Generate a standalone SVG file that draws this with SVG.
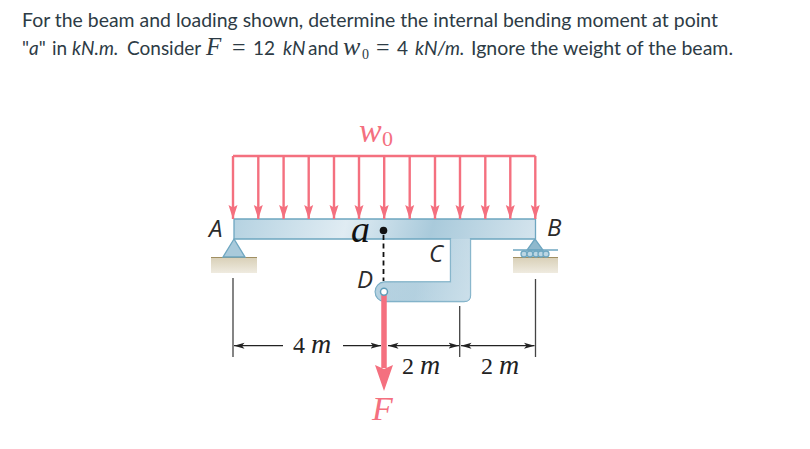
<svg xmlns="http://www.w3.org/2000/svg" width="810" height="449" viewBox="0 0 810 449">
<style>
.t{font-family:Lato,"Liberation Sans",sans-serif;font-size:19px;fill:#2d3b45}
.i{font-style:italic}
.m{font-family:"Liberation Serif",serif;font-style:italic;font-size:25px;fill:#2d3b45}
.mr{font-family:"Liberation Serif",serif;font-size:24px;fill:#2d3b45}
.lab{font-family:"Open Sans","Liberation Sans",sans-serif;font-style:italic;font-size:24px;fill:#2b2b2b}
.dim{font-family:"Liberation Serif",serif;font-size:24px;fill:#222}
.dim tspan{font-style:italic;font-size:28px}
.red{font-family:"Liberation Serif",serif;font-style:italic;fill:#f4707f}
.load{fill:none;stroke:#f4707f;stroke-width:2.4}
.ext{stroke:#444;stroke-width:1.3;fill:none}
.dl{stroke:#222;stroke-width:1.2;fill:none}
.body{stroke:#6ea6c0;stroke-width:1.3}
.gr{fill:url(#gg)}
.gt{stroke:#a08f62;stroke-width:1.2}
</style>
<defs>
<linearGradient id="gg" x1="0" y1="0" x2="0" y2="1"><stop offset="0" stop-color="#d8cfb6"/><stop offset="1" stop-color="#efebe0"/></linearGradient>
<linearGradient id="bg" x1="234" y1="219" x2="536" y2="300" gradientUnits="userSpaceOnUse">
<stop offset="0" stop-color="#b5d2e1"/><stop offset=".35" stop-color="#e0ecf3"/><stop offset=".62" stop-color="#a9cadb"/><stop offset="1" stop-color="#dbe8f0"/>
</linearGradient>
<linearGradient id="ag" x1="374" y1="282" x2="470" y2="302" gradientUnits="userSpaceOnUse">
<stop offset="0" stop-color="#a9cadb"/><stop offset="1" stop-color="#d5e5ee"/>
</linearGradient>
<marker id="dh" markerWidth="11" markerHeight="7" refX="10.5" refY="3.5" orient="auto-start-reverse" markerUnits="userSpaceOnUse"><path d="M0 .5L10.5 3.5L0 6.5L2.500 3.500Z" fill="#222"/></marker>
<marker id="lh" markerWidth="14" markerHeight="10" refX="14" refY="5" orient="auto" markerUnits="userSpaceOnUse"><path d="M0 .5L2.500 5L0 9.500L14 5Z" fill="#f4707f"/></marker>
</defs>
<g id="title">
<text class="t" x="22" y="27" textLength="696" lengthAdjust="spacingAndGlyphs">For the beam and loading shown, determine the internal bending moment at point</text>
<text class="t" x="22" y="55">"<tspan class="i">a</tspan>"</text>
<text class="t" x="52" y="55">in</text>
<text class="t i" x="72" y="55">kN.m.</text>
<text class="t" x="127" y="55">Consider</text>
<text class="m" x="206" y="55">F</text>
<text class="mr" x="232" y="55">=</text>
<text class="t" x="253" y="55">12</text>
<text class="t i" x="283" y="55">kN</text>
<text class="t" x="308" y="55">and</text>
<text class="m" x="343" y="55" style="font-size:26px">w</text>
<text class="mr" x="362" y="59" style="font-size:14px">0</text>
<text class="mr" x="376" y="55">=</text>
<text class="t" x="397" y="55">4</text>
<text class="t i" x="415" y="55">kN/m.</text>
<text class="t" x="471" y="55" textLength="262" lengthAdjust="spacingAndGlyphs">Ignore the weight of the beam.</text>
</g>
<g id="ground-a"><rect class="gr" x="211" y="257" width="46" height="16"/><path class="gt" d="M211 257.500H257"/></g>
<g id="ground-b"><rect class="gr" x="513" y="257" width="45" height="16"/><path class="gt" d="M513 257.500H558"/></g>
<g id="support-a"><path class="body" d="M234 239L223 257H245Z" fill="#a9cadb"/></g>
<g id="support-b">
<path class="body" d="M535 239L527 250H543Z" fill="#8fb9cd"/>
<path class="body" d="M513 250H558" fill="none"/>
<g class="body" fill="#bcd6e3"><circle cx="524" cy="254" r="3"/><circle cx="530" cy="254" r="3"/><circle cx="536" cy="254" r="3"/><circle cx="541" cy="254" r="3"/><circle cx="546" cy="254" r="3"/></g>
</g>
<g id="beam">
<path d="M234 219H535.500V239H470.500V295.500Q470.500 301.500 464 301.500H384A9.800 9.800 0 0 1 384 282H450.500V239H234Z" fill="url(#bg)" class="body"/>
<path d="M384 282H450.500V239H470.500V295.500Q470.500 301.500 464 301.500H384A9.800 9.800 0 0 1 384 282Z" fill="url(#ag)" stroke="none" opacity=".55"/>
</g>
<g id="connectors">
<path class="load" d="M233 156H535.500"/>
<path class="load" marker-end="url(#lh)" d="M233 156V219"/>
<path class="load" marker-end="url(#lh)" d="M258.300 156V219"/>
<path class="load" marker-end="url(#lh)" d="M283.600 156V219"/>
<path class="load" marker-end="url(#lh)" d="M308.700 156V219"/>
<path class="load" marker-end="url(#lh)" d="M334 156V219"/>
<path class="load" marker-end="url(#lh)" d="M359 156V219"/>
<path class="load" marker-end="url(#lh)" d="M384.200 156V219"/>
<path class="load" marker-end="url(#lh)" d="M409.700 156V219"/>
<path class="load" marker-end="url(#lh)" d="M435 156V219"/>
<path class="load" marker-end="url(#lh)" d="M460 156V219"/>
<path class="load" marker-end="url(#lh)" d="M485.300 156V219"/>
<path class="load" marker-end="url(#lh)" d="M510.300 156V219"/>
<path class="load" marker-end="url(#lh)" d="M535.300 156V219"/>
<path d="M383.500 235V281" stroke="#111" stroke-width="1.800" stroke-dasharray="5 3.500" fill="none"/>
<path d="M384 295V368" stroke="#f4707f" stroke-width="5.500" fill="none"/>
<path d="M375 365L384 369L393 365L384 391Z" fill="#f4707f"/>
<path class="ext" d="M233 278V357M535.500 279V357M459.700 306V357"/>
<path class="dl" marker-start="url(#dh)" d="M234 345.700H283"/>
<path class="dl" marker-end="url(#dh)" d="M343 345.700H381"/>
<path class="dl" marker-start="url(#dh)" marker-end="url(#dh)" d="M388 345.700H459"/>
<path class="dl" marker-start="url(#dh)" marker-end="url(#dh)" d="M461 345.700H534.500"/>
</g>
<g id="point-a"><circle cx="383.500" cy="230.500" r="3.800" fill="#111"/><text x="351" y="242" style="font-family:'Liberation Serif',serif;font-style:italic;font-size:38px;fill:#111">a</text></g>
<g id="point-d"><circle cx="384" cy="291.700" r="3.500" fill="#fff" stroke="#5f9db9" stroke-width="1.500"/><text class="lab" x="357" y="288">D</text></g>
<g id="label-a"><text class="lab" x="209" y="236.500">A</text></g>
<g id="label-b"><text class="lab" x="547" y="236">B</text></g>
<g id="label-c"><text class="lab" x="429" y="262">C</text></g>
<g id="label-w"><text class="red" x="359" y="142" style="font-size:34px">w</text><text x="382" y="146" style="font-family:'Liberation Serif',serif;font-size:22px;fill:#f4707f">0</text></g>
<g id="label-f"><text class="red" x="372" y="420" style="font-size:34px">F</text></g>
<g id="dims">
<text class="dim" x="293" y="353">4 <tspan>m</tspan></text>
<text class="dim" x="402" y="374">2 <tspan>m</tspan></text>
<text class="dim" x="481" y="374">2 <tspan>m</tspan></text>
</g>
</svg>
